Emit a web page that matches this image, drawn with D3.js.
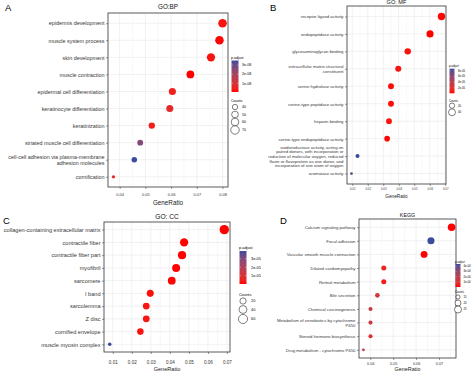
<!DOCTYPE html>
<html>
<head>
<meta charset="utf-8">
<script src="https://cdnjs.cloudflare.com/ajax/libs/d3/7.8.5/d3.min.js"></script>
<style>
  body { margin: 0; background: #fff; }
  svg { display: block; font-family: "Liberation Sans", Arial, sans-serif; }
</style>
</head>
<body>
<svg width="474" height="372"></svg>
<script>
// A - GO:BP
var bpTerms = ["epidermis development", "muscle system process", "skin development", "muscle contraction",
  "epidermal cell differentiation", "keratinocyte differentiation", "keratinization",
  "striated muscle cell differentiation", "cell-cell adhesion via plasma-membrane\nadhesion molecules", "cornification"];
var bpRatio = [0.0800, 0.0788, 0.0755, 0.0675, 0.0605, 0.0595, 0.0525, 0.0480, 0.0457, 0.0376];
var bpCount = [72, 71, 68, 61, 54, 53, 47, 43, 41, 34];
var bpPadj = [2.1e-09, 8.0e-10, 2.1e-09, 5.0e-10, 4.2e-09, 6.3e-09, 3.9e-09, 2.6e-08, 3.5e-08, 5.2e-09];
var bpTicks = [0.04, 0.05, 0.06, 0.07, 0.08];
var bpPadjTicks = [1e-08, 2e-08, 3e-08];
var bpCountTicks = [40, 50, 60, 70];

// B - GO: MF
var mfTerms = ["receptor ligand activity", "endopeptidase activity", "glycosaminoglycan binding",
  "extracellular matrix structural\nconstituent", "serine hydrolase activity", "serine-type peptidase activity",
  "heparin binding", "serine-type endopeptidase activity",
  "oxidoreductase activity, acting on\npaired donors, with incorporation or\nreduction of molecular oxygen, reduced\nflavin or flavoprotein as one donor, and\nincorporation of one atom of oxygen",
  "aromatase activity"];
var mfRatio = [0.0676, 0.0602, 0.0458, 0.0397, 0.0350, 0.0350, 0.0337, 0.0325, 0.0134, 0.0095];
var mfCount = [48, 43, 33, 28, 25, 25, 24, 23, 10, 7];
var mfPadj = [2.3e-06, 1.1e-06, 4.5e-06, 5.6e-06, 3.1e-06, 3.1e-06, 4.9e-06, 2.0e-06, 8.7e-05, 8.1e-05];
var mfTicks = [0.01, 0.02, 0.03, 0.04, 0.05, 0.06, 0.07];
var mfPadjTicks = [2e-05, 4e-05, 6e-05, 8e-05];
var mfCountTicks = [20, 40];

// C - GO: CC
var ccTerms = ["collagen-containing extracellular matrix", "contractile fiber", "contractile fiber part",
  "myofibril", "sarcomere", "I band", "sarcolemma", "Z disc", "cornified envelope", "muscle myosin complex"];
var ccRatio = [0.0686, 0.0475, 0.0464, 0.0433, 0.0410, 0.0297, 0.0276, 0.0276, 0.0245, 0.0084];
var ccCount = [65, 45, 44, 41, 39, 28, 26, 26, 23, 8];
var ccPadj = [3.2e-07, 2.1e-07, 2.1e-07, 4.5e-07, 6.2e-07, 1.6e-06, 2.3e-06, 2.5e-06, 1.9e-06, 3.9e-05];
var ccTicks = [0.01, 0.02, 0.03, 0.04, 0.05, 0.06, 0.07];
var ccPadjTicks = [1e-05, 2e-05, 3e-05];
var ccCountTicks = [20, 40, 60];

// D - KEGG
var kgTerms = ["Calcium signaling pathway", "Focal adhesion", "Vascular smooth muscle contraction",
  "Dilated cardiomyopathy", "Retinol metabolism", "Bile secretion", "Chemical carcinogenesis",
  "Metabolism of xenobiotics by cytochrome\nP450", "Steroid hormone biosynthesis", "Drug metabolism - cytochrome P450"];
var kgRatio = [0.0755, 0.0665, 0.0635, 0.0459, 0.0459, 0.0431, 0.0401, 0.0401, 0.0401, 0.0370];
var kgCount = [28, 25, 24, 17, 17, 16, 15, 15, 15, 14];
var kgPadj = [2.1e-06, 4.4e-04, 1.2e-06, 6.5e-05, 3.8e-05, 1.25e-04, 1.6e-04, 1.45e-04, 9.0e-05, 1.7e-04];
var kgTicks = [0.04, 0.05, 0.06, 0.07];
var kgPadjTicks = [1e-04, 2e-04, 3e-04, 4e-04];
var kgCountTicks = [15, 20, 25];

var svg = d3.select("svg");
var colorOf = d3.interpolateLab("#ff0000", "#3c4c9c");
var textGrey = "#383838", darkGrey = "#333333", gridGrey = "#ebebeb";
var gradId = 0;

function drawPanel(p) {
  var left = p.box[0], top = p.box[1], right = p.box[2], bottom = p.box[3];
  var data = p.terms.map(function(t, i) {
    return {term: t, ratio: p.ratio[i], count: p.count[i], padj: p.padj[i]};
  });

  // x: GeneRatio with 5% expansion like ggplot
  var ext = d3.extent(p.ratio), pad = (ext[1] - ext[0]) * 0.05;
  var x = d3.scaleLinear().domain([ext[0] - pad, ext[1] + pad]).range([left, right]);
  var y = d3.scalePoint().domain(p.terms).range([top, bottom]).padding(0.6);
  var cExt = d3.extent(p.padj);
  var col = d3.scaleLinear().domain(cExt).range([0, 1]);
  var nExt = d3.extent(p.count);
  var rad = function(n) { return p.rmax * (3 + 5 * Math.sqrt((n - nExt[0]) / (nExt[1] - nExt[0]))) / 8; };

  var g = svg.append("g");

  // panel background + grid
  g.append("rect").attr("x", left).attr("y", top).attr("width", right - left).attr("height", bottom - top)
    .attr("fill", "#fff");
  var minor = [];
  var step = p.ticks[1] - p.ticks[0];
  for (var v = p.ticks[0] - step / 2; v < x.domain()[1]; v += step) {
    if (v > x.domain()[0]) minor.push(v);
  }
  g.selectAll(".minor").data(minor).enter().append("line")
    .attr("x1", function(d) { return x(d); }).attr("x2", function(d) { return x(d); })
    .attr("y1", top).attr("y2", bottom).attr("stroke", gridGrey).attr("stroke-width", 0.35);
  g.selectAll(".vmajor").data(p.ticks).enter().append("line")
    .attr("x1", function(d) { return x(d); }).attr("x2", function(d) { return x(d); })
    .attr("y1", top).attr("y2", bottom).attr("stroke", gridGrey).attr("stroke-width", 0.7);
  g.selectAll(".hmajor").data(p.terms).enter().append("line")
    .attr("x1", left).attr("x2", right)
    .attr("y1", function(d) { return y(d); }).attr("y2", function(d) { return y(d); })
    .attr("stroke", gridGrey).attr("stroke-width", 0.7);

  // points
  g.selectAll(".dot").data(data).enter().append("circle")
    .attr("cx", function(d) { return x(d.ratio); })
    .attr("cy", function(d) { return y(d.term); })
    .attr("r", function(d) { return rad(d.count); })
    .attr("fill", function(d) { return colorOf(col(d.padj)); });

  g.append("rect").attr("x", left).attr("y", top).attr("width", right - left).attr("height", bottom - top)
    .attr("fill", "none").attr("stroke", darkGrey).attr("stroke-width", 0.8);

  // y axis
  var ya = g.append("g").attr("transform", "translate(" + left + ",0)")
    .call(d3.axisLeft(y).tickSize(2).tickPadding(1.5));
  ya.select(".domain").remove();
  ya.selectAll("line").attr("stroke", darkGrey).attr("stroke-width", 0.5);
  ya.selectAll("text").attr("fill", textGrey).attr("font-size", p.labelSize)
    .attr("font-family", "Liberation Sans, Arial, sans-serif")
    .each(function(d) {
      var lines = d.split("\n");
      if (lines.length < 2) return;
      var t = d3.select(this), xx = t.attr("x");
      t.text(null).attr("dy", null);
      lines.forEach(function(s, i) {
        t.append("tspan").attr("x", xx)
          .attr("dy", i === 0 ? (0.32 - (lines.length - 1) * 0.55) + "em" : "1.1em").text(s);
      });
    });

  // x axis
  var xa = g.append("g").attr("transform", "translate(0," + bottom + ")")
    .call(d3.axisBottom(x).tickValues(p.ticks).tickSize(2)
      .tickPadding(p.tickBase - bottom - 2 - 0.71 * p.tickSize).tickFormat(d3.format(".2f")));
  xa.select(".domain").remove();
  xa.selectAll("line").attr("stroke", darkGrey).attr("stroke-width", 0.5);
  xa.selectAll("text").attr("fill", textGrey).attr("font-size", p.tickSize)
    .attr("font-family", "Liberation Sans, Arial, sans-serif");

  g.append("text").attr("x", (left + right) / 2).attr("y", p.xlabBase).attr("text-anchor", "middle")
    .attr("font-size", p.xlabSize).attr("fill", "#222").text("GeneRatio");
  g.append("text").attr("x", (left + right) / 2).attr("y", p.titleBase).attr("text-anchor", "middle")
    .attr("font-size", p.titleSize).attr("fill", "#111").text(p.title);
  g.append("text").attr("x", p.letter[1]).attr("y", p.letter[2]).attr("font-size", 9.5)
    .attr("fill", "#000").text(p.letter[0]);

  // colour legend
  var L = p.legend;
  var id = "grad" + (gradId++);
  var grad = svg.append("defs").append("linearGradient").attr("id", id)
    .attr("x1", 0).attr("y1", 1).attr("x2", 0).attr("y2", 0);
  d3.range(0, 1.001, 0.1).forEach(function(t) {
    grad.append("stop").attr("offset", t).attr("stop-color", colorOf(t));
  });
  g.append("text").attr("x", L.x).attr("y", L.titleBase).attr("font-size", L.fs).attr("fill", "#000").text("p.adjust");
  g.append("rect").attr("x", L.x + 0.5).attr("y", L.barTop).attr("width", L.barW).attr("height", L.barBottom - L.barTop)
    .attr("fill", "url(#" + id + ")");
  var by = d3.scaleLinear().domain(cExt).range([L.barBottom, L.barTop]);
  p.padjTicks.forEach(function(v) {
    var yy = by(v);
    g.append("line").attr("x1", L.x + 0.5).attr("x2", L.x + 0.5 + L.barW * 0.2).attr("y1", yy).attr("y2", yy)
      .attr("stroke", "#fff").attr("stroke-width", 0.4);
    g.append("line").attr("x1", L.x + 0.5 + L.barW * 0.8).attr("x2", L.x + 0.5 + L.barW).attr("y1", yy).attr("y2", yy)
      .attr("stroke", "#fff").attr("stroke-width", 0.4);
    g.append("text").attr("x", L.x + L.barW + L.gap).attr("y", yy).attr("dy", "0.35em")
      .attr("font-size", L.fs).attr("fill", "#000").text(d3.format(".0e")(v).replace("e-", "e-0").replace("e-00", "e-0"));
  });

  // size legend
  g.append("text").attr("x", L.x).attr("y", L.countBase).attr("font-size", L.fs).attr("fill", "#000").text("Counts");
  p.countTicks.forEach(function(v, i) {
    g.append("circle").attr("cx", L.x + 0.5 + L.barW / 2).attr("cy", L.circleY[i]).attr("r", rad(v))
      .attr("fill", "#fff").attr("stroke", "#000").attr("stroke-width", 0.5);
    g.append("text").attr("x", L.x + L.barW + L.gap).attr("y", L.circleY[i]).attr("dy", "0.35em")
      .attr("font-size", L.fs).attr("fill", "#000").text(v);
  });
}

drawPanel({terms: bpTerms, ratio: bpRatio, count: bpCount, padj: bpPadj, ticks: bpTicks,
  padjTicks: bpPadjTicks, countTicks: bpCountTicks, title: "GO:BP", letter: ["A", 5, 11],
  box: [108, 13, 228, 187], titleBase: 9.3, titleSize: 6.3, labelSize: 5.4, tickSize: 4, tickBase: 196,
  xlabSize: 6.3, xlabBase: 205, rmax: 4.3,
  legend: {x: 231, titleBase: 59, barTop: 60.5, barBottom: 92, barW: 7, gap: 4, fs: 3.6,
    countBase: 101.5, circleY: [107, 114.5, 122, 130]}});

drawPanel({terms: mfTerms, ratio: mfRatio, count: mfCount, padj: mfPadj, ticks: mfTicks,
  padjTicks: mfPadjTicks, countTicks: mfCountTicks, title: "GO: MF", letter: ["B", 270, 11],
  box: [347, 6, 446, 184], titleBase: 3.5, titleSize: 5.6, labelSize: 4.3, tickSize: 2.9, tickBase: 190,
  xlabSize: 4.7, xlabBase: 198, rmax: 3.7,
  legend: {x: 449, titleBase: 67, barTop: 68.7, barBottom: 93.3, barW: 5, gap: 4, fs: 2.8,
    countBase: 101.5, circleY: [105.7, 112.3]}});

drawPanel({terms: ccTerms, ratio: ccRatio, count: ccCount, padj: ccPadj, ticks: ccTicks,
  padjTicks: ccPadjTicks, countTicks: ccCountTicks, title: "GO: CC", letter: ["C", 3, 224],
  box: [104, 222, 230, 352], titleBase: 219.3, titleSize: 6.6, labelSize: 5.6, tickSize: 4.6, tickBase: 363.5,
  xlabSize: 5.6, xlabBase: 371, rmax: 4.7,
  legend: {x: 239, titleBase: 249, barTop: 251, barBottom: 284, barW: 7, gap: 5, fs: 3.9,
    countBase: 295.5, circleY: [301, 309.5, 319]}});

drawPanel({terms: kgTerms, ratio: kgRatio, count: kgCount, padj: kgPadj, ticks: kgTicks,
  padjTicks: kgPadjTicks, countTicks: kgCountTicks, title: "KEGG", letter: ["D", 280, 224],
  box: [359, 219, 456, 358], titleBase: 217, titleSize: 5.3, labelSize: 4.3, tickSize: 3.8, tickBase: 365,
  xlabSize: 5.4, xlabBase: 371, rmax: 3.8,
  legend: {x: 455, titleBase: 263, barTop: 264, barBottom: 287, barW: 5, gap: 3.5, fs: 2.8,
    countBase: 292.5, circleY: [297, 303, 309.5]}});
</script>
</body>
</html>
